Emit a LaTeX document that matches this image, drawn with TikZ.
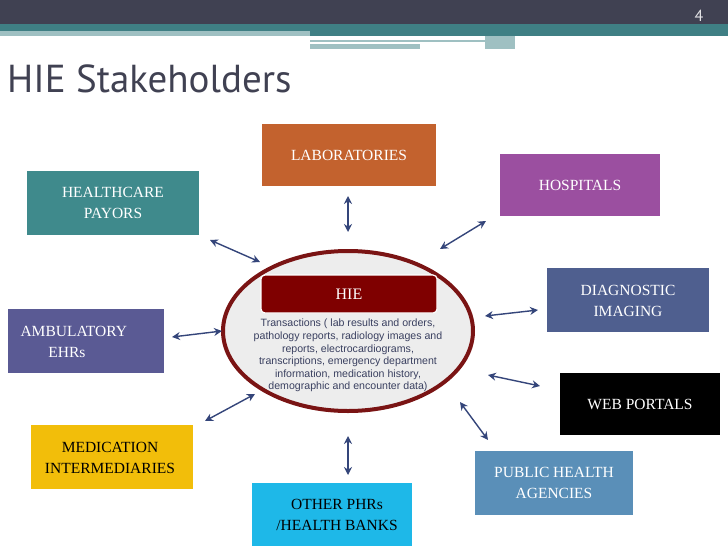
\documentclass[tikz,border=0pt]{standalone}
\usepackage{fontspec}
\setmainfont{Liberation Serif}
\newfontfamily\titlefont{PT Sans}
\newfontfamily\bodysans{Liberation Sans}
\usetikzlibrary{arrows.meta}
\definecolor{barc}{HTML}{404152}
\definecolor{tealc}{HTML}{3F7F84}
\definecolor{ltealc}{HTML}{9FC0C2}
\definecolor{labc}{HTML}{C3622E}
\definecolor{payc}{HTML}{3F8A8C}
\definecolor{hospc}{HTML}{9B4FA0}
\definecolor{diagc}{HTML}{4F5F8F}
\definecolor{ambc}{HTML}{5A5A94}
\definecolor{medc}{HTML}{F2BE0A}
\definecolor{pubc}{HTML}{5A8FB8}
\definecolor{phrc}{HTML}{1EB8E8}
\definecolor{hiec}{HTML}{7F0000}
\definecolor{ringc}{HTML}{7A1414}
\definecolor{arrc}{HTML}{34457A}
\definecolor{txtc}{HTML}{3A4060}
\begin{document}
\begin{tikzpicture}[x=1pt,y=-1pt,
  sbox/.style={draw=white,line width=1.2pt,minimum width=162pt,minimum height=64pt,inner sep=0pt},
  btxt/.style={text=white,font=\fontsize{15.5}{21}\selectfont,align=center},
  darr/.style={draw=arrc,line width=1.4pt,{Stealth[length=8pt,width=8pt]}-{Stealth[length=8pt,width=8pt]}}]
\useasboundingbox (0,0) rectangle (728,546);
\fill[white] (0,0) rectangle (728,546);
\fill[barc] (0,0) rectangle (728,24);
\fill[tealc] (0,24) rectangle (728,36);
\fill[ltealc] (0,31) rectangle (310,36);
\fill[ltealc] (310,40) rectangle (485,42);
\fill[ltealc] (310,44) rectangle (420,49);
\fill[ltealc] (485,36) rectangle (515,49);
\node[text=white!85!barc,font=\titlefont\fontsize{16}{16}\selectfont] (num) at (699,16) {4};
\node[anchor=base west,text=barc,font=\titlefont\fontsize{39}{39}\selectfont,inner sep=0pt] (title) at (7,92) {HIE Stakeholders};
% boxes
\node[sbox,fill=labc,minimum width=176pt] (lab) at (349,155) {};
\node[btxt,anchor=north] at (349,147) {LABORATORIES};
\node[sbox,fill=payc,minimum width=174pt,minimum height=66pt] (pay) at (113,203) {};
\node[btxt,anchor=north] at (113,184) {HEALTHCARE\\PAYORS};
\node[sbox,fill=hospc] (hosp) at (580,185) {};
\node[btxt,anchor=north] at (580,177) {HOSPITALS};
\node[sbox,fill=diagc,minimum width=164pt,minimum height=65pt] (diag) at (628,300) {};
\node[btxt,anchor=north] at (628,282) {DIAGNOSTIC\\IMAGING};
\node[sbox,fill=ambc,minimum width=158pt,minimum height=65pt] (amb) at (86,341) {};
\node[btxt,anchor=north west,align=left] at (17,323) {AMBULATORY\\\hspace*{1.8em}EHRs};
\node[sbox,fill=black] (web) at (640,404) {};
\node[btxt,anchor=north] at (640,396) {WEB PORTALS};
\node[sbox,fill=medc,minimum width=164pt,minimum height=65pt] (med) at (112,457) {};
\node[btxt,text=black,anchor=north] at (110,439) {MEDICATION\\INTERMEDIARIES};
\node[sbox,fill=pubc,minimum width=160pt,minimum height=65pt] (pub) at (554,483) {};
\node[btxt,anchor=north] at (554,464) {PUBLIC HEALTH\\AGENCIES};
\node[sbox,fill=phrc,minimum width=161pt,minimum height=66pt] (phr) at (332,515) {};
\node[btxt,text=black,anchor=north] at (337,496) {OTHER PHRs\\/HEALTH BANKS};
% centre
\draw[ringc,line width=4pt,fill=gray!14] (348,331) ellipse (125pt and 80pt);
\coordinate (hiecentre) at (348,331);
\node[fill=hiec,draw=white,line width=1.2pt,rounded corners=4pt,minimum width=176pt,minimum height=38pt,text=white,font=\fontsize{16}{16}\selectfont] (hie) at (349,294) {HIE};
\node[text=txtc,font=\bodysans\fontsize{10.6}{12.6}\selectfont,align=center,anchor=north,inner sep=0pt] (trans) at (348,319) {Transactions ( lab results and orders,\\pathology reports, radiology images and\\reports, electrocardiograms,\\transcriptions, emergency department\\information, medication history,\\demographic and encounter data)};
% arrows
\coordinate (l1) at (348,196); \coordinate (l2) at (348,232);
\draw[darr] (l1) -- (l2);
\coordinate (p1) at (210,240); \coordinate (p2) at (260,262);
\draw[darr] (p1) -- (p2);
\coordinate (h1) at (486,221); \coordinate (h2) at (440,249);
\draw[darr] (h1) -- (h2);
\coordinate (d1) at (538,310); \coordinate (d2) at (485,316);
\draw[darr] (d1) -- (d2);
\coordinate (a1) at (172,337); \coordinate (a2) at (222,331);
\draw[darr] (a1) -- (a2);
\coordinate (w1) at (488,375); \coordinate (w2) at (540,386);
\draw[darr] (w1) -- (w2);
\coordinate (m1) at (205,421); \coordinate (m2) at (255,394);
\draw[darr] (m1) -- (m2);
\coordinate (u1) at (460,402); \coordinate (u2) at (488,440);
\draw[darr] (u1) -- (u2);
\coordinate (o1) at (348,436); \coordinate (o2) at (348,475);
\draw[darr] (o1) -- (o2);
\end{tikzpicture}
\end{document}
